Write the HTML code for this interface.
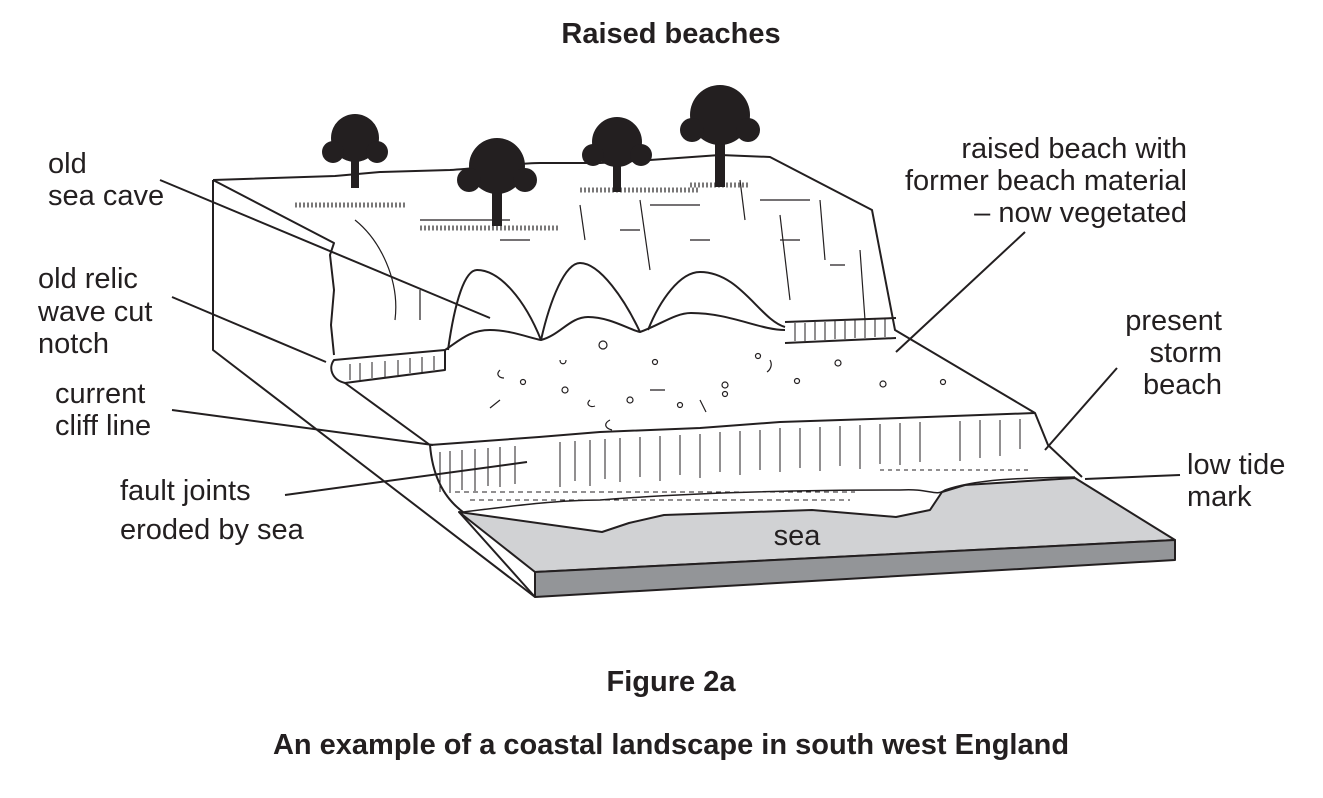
<!DOCTYPE html>
<html><head><meta charset="utf-8"><style>
body{margin:0;background:#fff;}
svg{display:block;}
text{font-family:"Liberation Sans",sans-serif;fill:#231f20;}
</style></head><body>
<svg width="1323" height="798" viewBox="0 0 1323 798" xmlns="http://www.w3.org/2000/svg">
<g stroke="#231f20" stroke-width="2" fill="none" stroke-linejoin="round">
<polygon points="459,512 602,532 629,523 664,515 812,510 896,517 930,510 942,492 965,485 1075,478 1175,540 535,572" fill="#d1d2d4"/>
<polygon points="535,572 1175,540 1175,560 535,597" fill="#939598"/>
<line x1="459" y1="512" x2="535" y2="597"/>
<polyline points="213,180 213,350 535,597"/>
<path d="M213,180 L335,176 L380,172 L450,170 C480,168 520,163 540,163 L600,163 L650,160 L720,155 L770,157 L872,210 L895,330 L1035,413 L1048,445 L1082,477"/>
<path d="M213,180 L334,243 L330,255 L334,290 L331,325 L334,355"/>
<path d="M334,360 C328,368 332,380 345,383 L445,370 L445,350 L334,360Z"/>
<path d="M345,383 L430,445 C432,470 440,495 463,512"/>
<path d="M448,350 C455,300 465,270 477,270 C500,270 525,300 541,340"/>
<path d="M541,340 C550,300 565,263 580,263 C600,263 625,300 640,332"/>
<path d="M648,330 C660,300 680,272 700,272 C740,272 760,320 785,327"/>
<path d="M445,350 C460,340 470,330 490,330 C510,330 530,338 541,340 C560,335 570,317 588,317 C610,317 630,330 640,332 C660,325 675,313 691,313 C730,313 760,330 785,330"/>
<path d="M785,322 L896,318 M785,343 L896,338"/>
<path d="M430,445 L539,437 L600,432 L700,428 L780,422 L900,418 L1035,413"/>
<path d="M463,512 C520,505 560,500 600,500 C700,492 800,490 900,490 C930,488 935,497 945,490 C980,478 1030,478 1075,477" stroke-width="1.5"/>
<line x1="160" y1="180" x2="490" y2="318"/>
<line x1="172" y1="297" x2="326" y2="362"/>
<line x1="172" y1="410" x2="433" y2="445"/>
<line x1="285" y1="495" x2="527" y2="462"/>
<line x1="1025" y1="232" x2="896" y2="352"/>
<line x1="1117" y1="368" x2="1045" y2="450"/>
<line x1="1180" y1="475" x2="1085" y2="479"/>
</g>
<g stroke="#231f20" stroke-width="1">
<path d="M350,364 v16 M360,363 v17 M372,362 v16 M385,361 v16 M398,360 v15 M410,358 v15 M422,357 v15 M434,356 v14 M795,323 v18 M805,323 v18 M815,322 v18 M825,322 v18 M835,321 v18 M845,321 v18 M855,320 v18 M865,320 v18 M875,319 v18 M885,319 v18"/>
<path d="M440,452 v40 M450,451 v42 M462,450 v40 M475,449 v42 M488,448 v38 M500,447 v40 M515,446 v38 M560,442 v45 M575,441 v40 M590,440 v46 M605,439 v40 M620,438 v44 M640,437 v40 M660,436 v45 M680,435 v40 M700,434 v44 M720,432 v40 M740,431 v44 M760,430 v40 M780,428 v44 M800,428 v40 M820,427 v44 M840,426 v40 M860,425 v44 M880,424 v40 M900,423 v42 M920,422 v40 M960,421 v40 M980,420 v38 M1000,420 v36 M1020,419 v30"/>
<path d="M455,492 h400 M470,500 h380" stroke-dasharray="5 4"/>
<path d="M880,470 h150" stroke-dasharray="4 4"/>
</g>
<g stroke="#231f20" stroke-width="1.2" fill="none">
<path d="M355,220 C380,240 400,280 395,320 M420,290 L420,320 M580,205 L585,240 M640,200 L650,270 M740,180 L745,220 M780,215 L790,300 M820,200 L825,260 M860,250 L865,320 M620,230 h20 M690,240 h20 M780,240 h20 M830,265 h15 M500,240 h30 M650,205 h50 M760,200 h50 M420,220 h90"/>
</g>
<g stroke="#231f20" stroke-width="1.2" fill="none">
<circle cx="603" cy="345" r="4"/><circle cx="655" cy="362" r="2.5"/><circle cx="725" cy="385" r="3"/><circle cx="758" cy="356" r="2.5"/><circle cx="838" cy="363" r="3"/><circle cx="883" cy="384" r="3"/><circle cx="943" cy="382" r="2.5"/><circle cx="725" cy="394" r="2.5"/><circle cx="523" cy="382" r="2.5"/><circle cx="565" cy="390" r="3"/><circle cx="630" cy="400" r="3"/><circle cx="680" cy="405" r="2.5"/><circle cx="797" cy="381" r="2.5"/>
<path d="M500,370 c-5,5 0,8 4,8 M560,360 c0,5 6,5 6,0 M590,400 c-5,4 0,8 5,6 M650,390 h15 M500,400 l-10,8 M700,400 l6,12 M770,360 c3,5 0,10 -3,12 M610,420 c-6,3 -6,8 2,10"/>
</g>
<g fill="#231f20">
<g transform="translate(355,150)"><rect x="-4" y="0" width="8" height="38"/><circle cx="0" cy="-12" r="24"/><circle cx="-22" cy="2" r="11"/><circle cx="22" cy="2" r="11"/></g>
<g transform="translate(497,178)"><rect x="-5" y="0" width="10" height="48"/><circle cx="0" cy="-12" r="28"/><circle cx="-28" cy="2" r="12"/><circle cx="28" cy="2" r="12"/></g>
<g transform="translate(617,152)"><rect x="-4" y="0" width="8" height="40"/><circle cx="0" cy="-10" r="25"/><circle cx="-24" cy="3" r="11"/><circle cx="24" cy="3" r="11"/></g>
<g transform="translate(720,125)"><rect x="-5" y="0" width="10" height="62"/><circle cx="0" cy="-10" r="30"/><circle cx="-28" cy="5" r="12"/><circle cx="28" cy="5" r="12"/></g>
</g>
<g stroke="#231f20" opacity="0.6">
<path d="M295,205 h110 M420,228 h140 M580,190 h120 M690,185 h60" stroke-dasharray="2 2" stroke-width="5"/>
</g>
<g font-size="29">
<text x="671" y="43" text-anchor="middle" font-weight="bold">Raised beaches</text>
<text x="48" y="173">old</text><text x="48" y="205">sea cave</text>
<text x="38" y="288">old relic</text><text x="38" y="321">wave cut</text><text x="38" y="353">notch</text>
<text x="55" y="403">current</text><text x="55" y="435">cliff line</text>
<text x="120" y="500">fault joints</text><text x="120" y="539">eroded by sea</text>
<text x="1187" y="158" text-anchor="end">raised beach with</text>
<text x="1187" y="190" text-anchor="end">former beach material</text>
<text x="1187" y="222" text-anchor="end">– now vegetated</text>
<text x="1222" y="330" text-anchor="end">present</text>
<text x="1222" y="362" text-anchor="end">storm</text>
<text x="1222" y="394" text-anchor="end">beach</text>
<text x="1187" y="474">low tide</text><text x="1187" y="506">mark</text>
<text x="797" y="545" text-anchor="middle">sea</text>
<text x="671" y="691" text-anchor="middle" font-weight="bold">Figure 2a</text>
<text x="671" y="754" text-anchor="middle" font-weight="bold">An example of a coastal landscape in south west England</text>
</g>
</svg>
</body></html>
